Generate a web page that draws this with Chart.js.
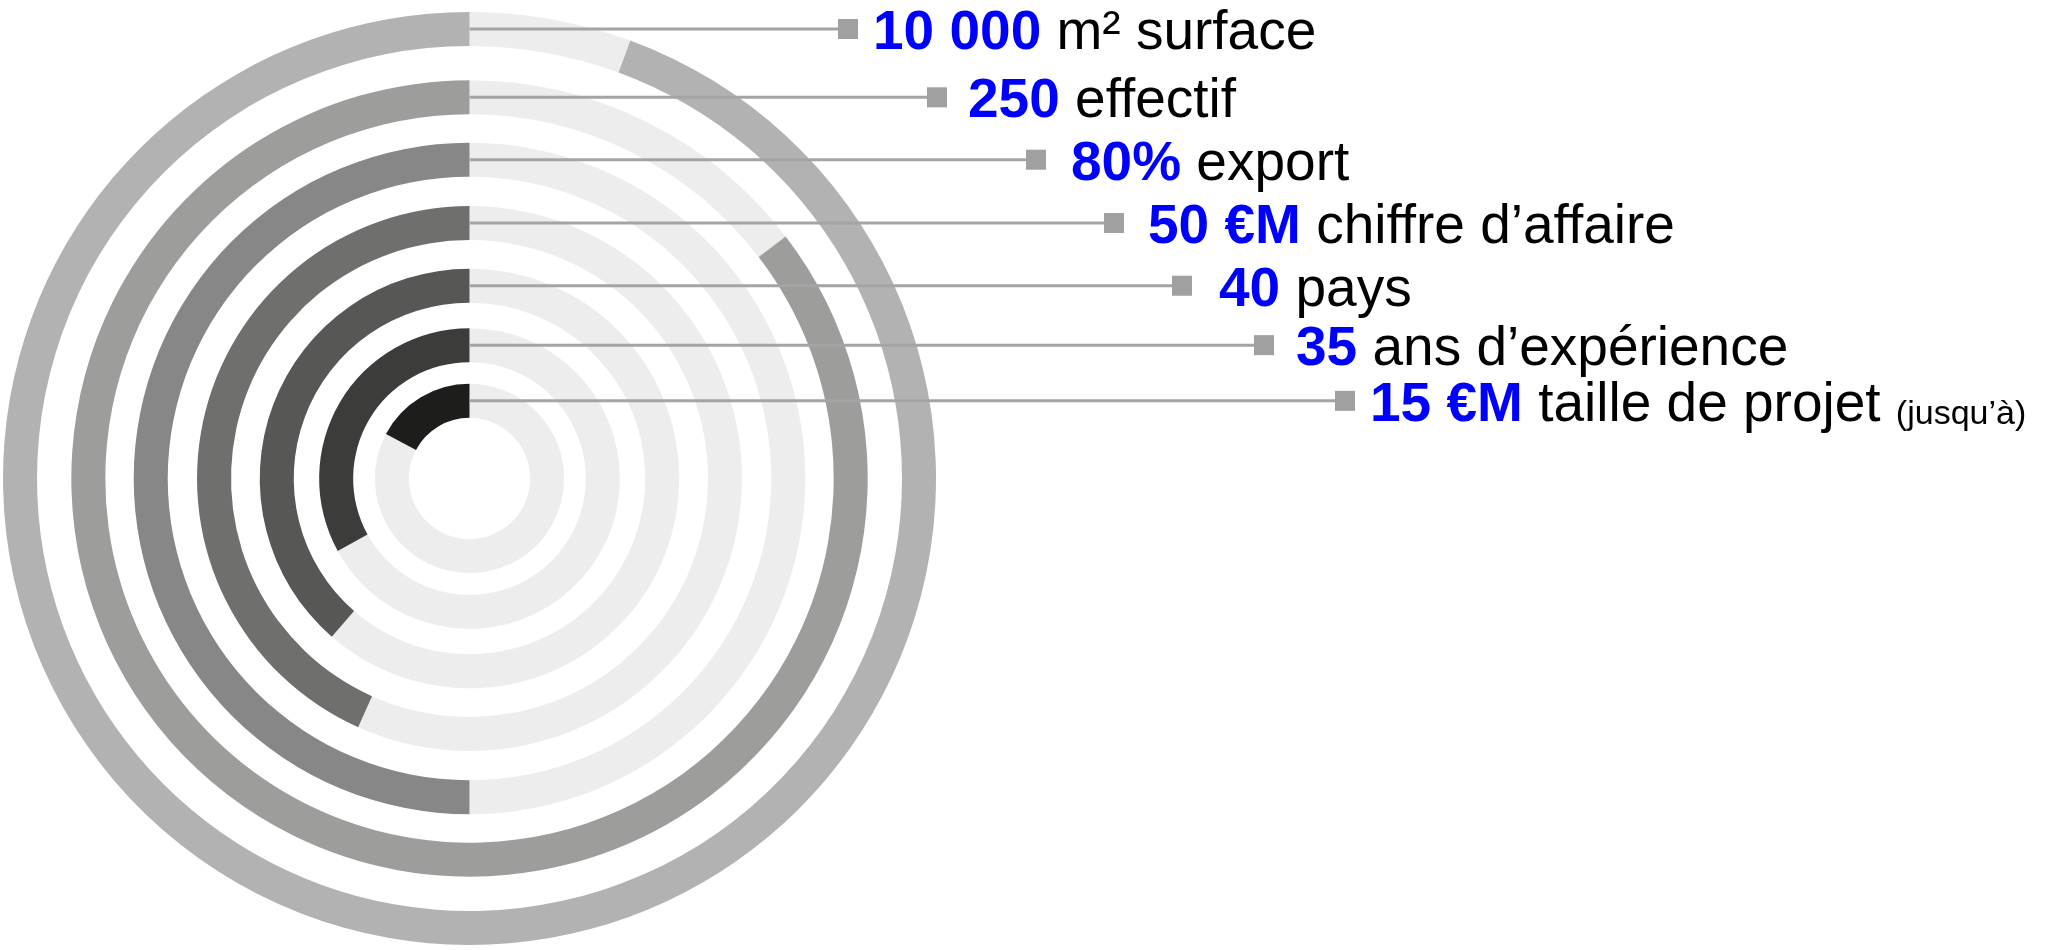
<!DOCTYPE html>
<html lang="fr">
<head>
<meta charset="utf-8">
<title>Chiffres clés</title>
<script src="https://cdn.jsdelivr.net/npm/chart.js@4/dist/chart.umd.min.js"></script>
<style>
    html, body { margin: 0; padding: 0; background: #ffffff; }
    #wrap { position: relative; width: 2048px; height: 950px; }
</style>
</head>
<body>
<div id="wrap"><canvas id="ringsChart"></canvas></div>
<script>
'use strict';

// Key figures, outermost ring first
var figureValues = ['10 000', '250', '80%', '50 €M', '40', '35', '15 €M'];
var figureLabels = [' m² surface', ' effectif', ' export', ' chiffre d’affaire', ' pays', ' ans d’expérience', ' taille de projet '];
var figureNotes = ['', '', '', '', '', '', '(jusqu’à)'];
// Filled share of each ring, in percent
var ringShares = [94.4, 85.4, 50, 43.3, 38.6, 33, 17.2];

// Styling / layout
var ringColors = ['#b2b2b2', '#9d9d9c', '#878787', '#6f6f6e', '#575756', '#3c3c3b', '#1d1d1b'];
var trackColor = '#ededed';
var ringWeight = 34;
var gapWeights = [34.3, 28.4, 29.3, 28.7, 25.4, 21.7];
var markerX = [838, 927, 1026, 1104, 1172, 1254, 1335];
var labelX = [873, 968, 1071, 1148, 1219, 1296, 1370];

(function () {
    if (typeof Chart === 'undefined') {
        console.error('Chart.js is not loaded');
        return;
    }

    // Rings alternate with transparent spacer datasets
    var datasets = [];
    ringShares.forEach(function (share, i) {
        datasets.push({
            data: [100 - share, share],
            backgroundColor: [trackColor, ringColors[i]],
            weight: ringWeight,
            borderWidth: 0,
            hoverBorderWidth: 0,
            offset: 0,
            hoverOffset: 0
        });
        if (i < gapWeights.length) {
            datasets.push({
                data: [1],
                backgroundColor: ['rgba(0, 0, 0, 0)'],
                weight: gapWeights[i],
                borderWidth: 0,
                hoverBorderWidth: 0,
                offset: 0,
                hoverOffset: 0
            });
        }
    });

    // Connector lines, markers and figures
    var labelPlugin = {
        id: 'ringLabels',
        afterDatasetsDraw: function (chart) {
            var ctx = chart.ctx;
            ctx.save();
            ringShares.forEach(function (share, i) {
                var arc = chart.getDatasetMeta(i * 2).data[0];
                var ly = arc.y - (arc.innerRadius + arc.outerRadius) / 2;

                ctx.strokeStyle = '#a4a4a4';
                ctx.lineWidth = 3;
                ctx.beginPath();
                ctx.moveTo(arc.x, ly);
                ctx.lineTo(markerX[i], ly);
                ctx.stroke();

                ctx.fillStyle = '#a0a0a0';
                ctx.fillRect(markerX[i], ly - 10, 20, 20);

                var x = labelX[i];
                var base = ly + 20;
                ctx.textBaseline = 'alphabetic';
                ctx.textAlign = 'left';

                ctx.font = 'bold 55px "Liberation Sans", Arial, sans-serif';
                ctx.fillStyle = '#0000ff';
                ctx.fillText(figureValues[i], x, base);
                x += ctx.measureText(figureValues[i]).width;

                ctx.font = '55px "Liberation Sans", Arial, sans-serif';
                ctx.fillStyle = '#000000';
                ctx.fillText(figureLabels[i], x, base);
                x += ctx.measureText(figureLabels[i]).width;

                if (figureNotes[i]) {
                    ctx.font = '34px "Liberation Sans", Arial, sans-serif';
                    ctx.fillText(figureNotes[i], x, base + 3);
                }
            });
            ctx.restore();
        }
    };

    new Chart(document.getElementById('ringsChart'), {
        type: 'doughnut',
        data: {
            labels: ['reste', 'valeur'],
            datasets: datasets
        },
        options: {
            responsive: true,
            maintainAspectRatio: false,
            animation: false,
            events: [],
            cutout: '13%',
            rotation: 0,
            layout: {
                padding: { left: 3, top: 12, right: 1112, bottom: 5 }
            },
            plugins: {
                legend: { display: false },
                tooltip: { enabled: false }
            }
        },
        plugins: [labelPlugin]
    });
})();
</script>
</body>
</html>
